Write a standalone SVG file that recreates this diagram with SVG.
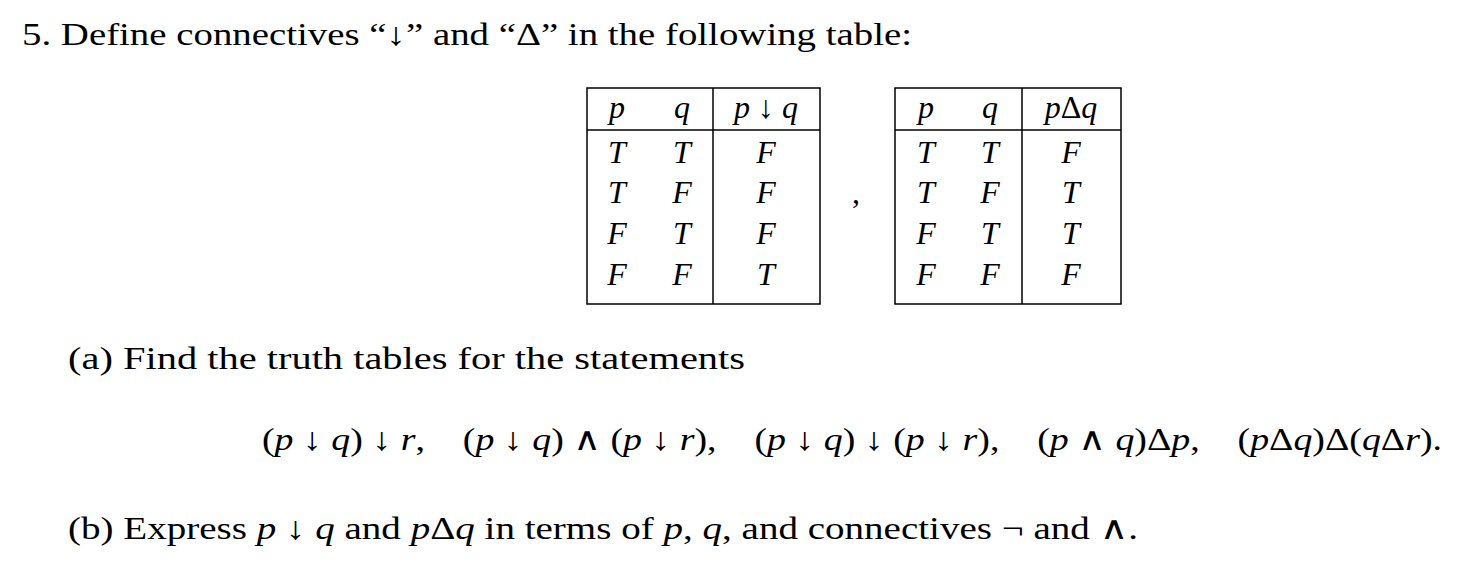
<svg xmlns="http://www.w3.org/2000/svg" width="1464" height="566" viewBox="0 0 1464 566">
<style>
text{font-family:"Liberation Serif","DejaVu Serif",serif;font-size:32px;fill:#000}
.i{font-style:italic}
.c{text-anchor:middle}
.pre{white-space:pre}
line,rect{stroke:#000;stroke-width:1.5;fill:none}
</style>
<rect width="1464" height="566" fill="#fff" style="stroke:none"/>
<text x="22" y="45" textLength="890" lengthAdjust="spacingAndGlyphs">5. Define connectives “↓” and “Δ” in the following table:</text>
<g id="table1">
<rect x="587" y="88" width="233" height="216"/>
<line x1="587" y1="130" x2="820" y2="130"/>
<line x1="713" y1="88" x2="713" y2="304"/>
<text class="i c" x="617" y="118">p</text><text class="i c" x="682" y="118">q</text><text class="c" x="766" y="118"><tspan class="i">p</tspan> ↓ <tspan class="i">q</tspan></text>
<text class="i c" x="617" y="163">T</text><text class="i c" x="682" y="163">T</text><text class="i c" x="766" y="163">F</text>
<text class="i c" x="617" y="203">T</text><text class="i c" x="682" y="203">F</text><text class="i c" x="766" y="203">F</text>
<text class="i c" x="617" y="244">F</text><text class="i c" x="682" y="244">T</text><text class="i c" x="766" y="244">F</text>
<text class="i c" x="617" y="285">F</text><text class="i c" x="682" y="285">F</text><text class="i c" x="766" y="285">T</text>
</g>
<text x="852" y="203">,</text>
<g id="table2">
<rect x="895" y="88" width="226" height="216"/>
<line x1="895" y1="130" x2="1121" y2="130"/>
<line x1="1022" y1="88" x2="1022" y2="304"/>
<text class="i c" x="926" y="118">p</text><text class="i c" x="990" y="118">q</text><text class="c" x="1071" y="118"><tspan class="i">p</tspan>Δ<tspan class="i">q</tspan></text>
<text class="i c" x="926" y="163">T</text><text class="i c" x="990" y="163">T</text><text class="i c" x="1071" y="163">F</text>
<text class="i c" x="926" y="203">T</text><text class="i c" x="990" y="203">F</text><text class="i c" x="1071" y="203">T</text>
<text class="i c" x="926" y="244">F</text><text class="i c" x="990" y="244">T</text><text class="i c" x="1071" y="244">T</text>
<text class="i c" x="926" y="285">F</text><text class="i c" x="990" y="285">F</text><text class="i c" x="1071" y="285">F</text>
</g>
<text x="68" y="369" textLength="677" lengthAdjust="spacingAndGlyphs">(a) Find the truth tables for the statements</text>
<text class="pre" x="262" y="450" textLength="1180" lengthAdjust="spacingAndGlyphs">(<tspan class="i">p</tspan> ↓ <tspan class="i">q</tspan>) ↓ <tspan class="i">r</tspan>,    (<tspan class="i">p</tspan> ↓ <tspan class="i">q</tspan>) ∧ (<tspan class="i">p</tspan> ↓ <tspan class="i">r</tspan>),    (<tspan class="i">p</tspan> ↓ <tspan class="i">q</tspan>) ↓ (<tspan class="i">p</tspan> ↓ <tspan class="i">r</tspan>),    (<tspan class="i">p</tspan> ∧ <tspan class="i">q</tspan>)Δ<tspan class="i">p</tspan>,    (<tspan class="i">p</tspan>Δ<tspan class="i">q</tspan>)Δ(<tspan class="i">q</tspan>Δ<tspan class="i">r</tspan>).</text>
<text x="68" y="539" textLength="1070" lengthAdjust="spacingAndGlyphs">(b) Express <tspan class="i">p</tspan> ↓ <tspan class="i">q</tspan> and <tspan class="i">p</tspan>Δ<tspan class="i">q</tspan> in terms of <tspan class="i">p</tspan>, <tspan class="i">q</tspan>, and connectives ¬ and ∧.</text>
</svg>
